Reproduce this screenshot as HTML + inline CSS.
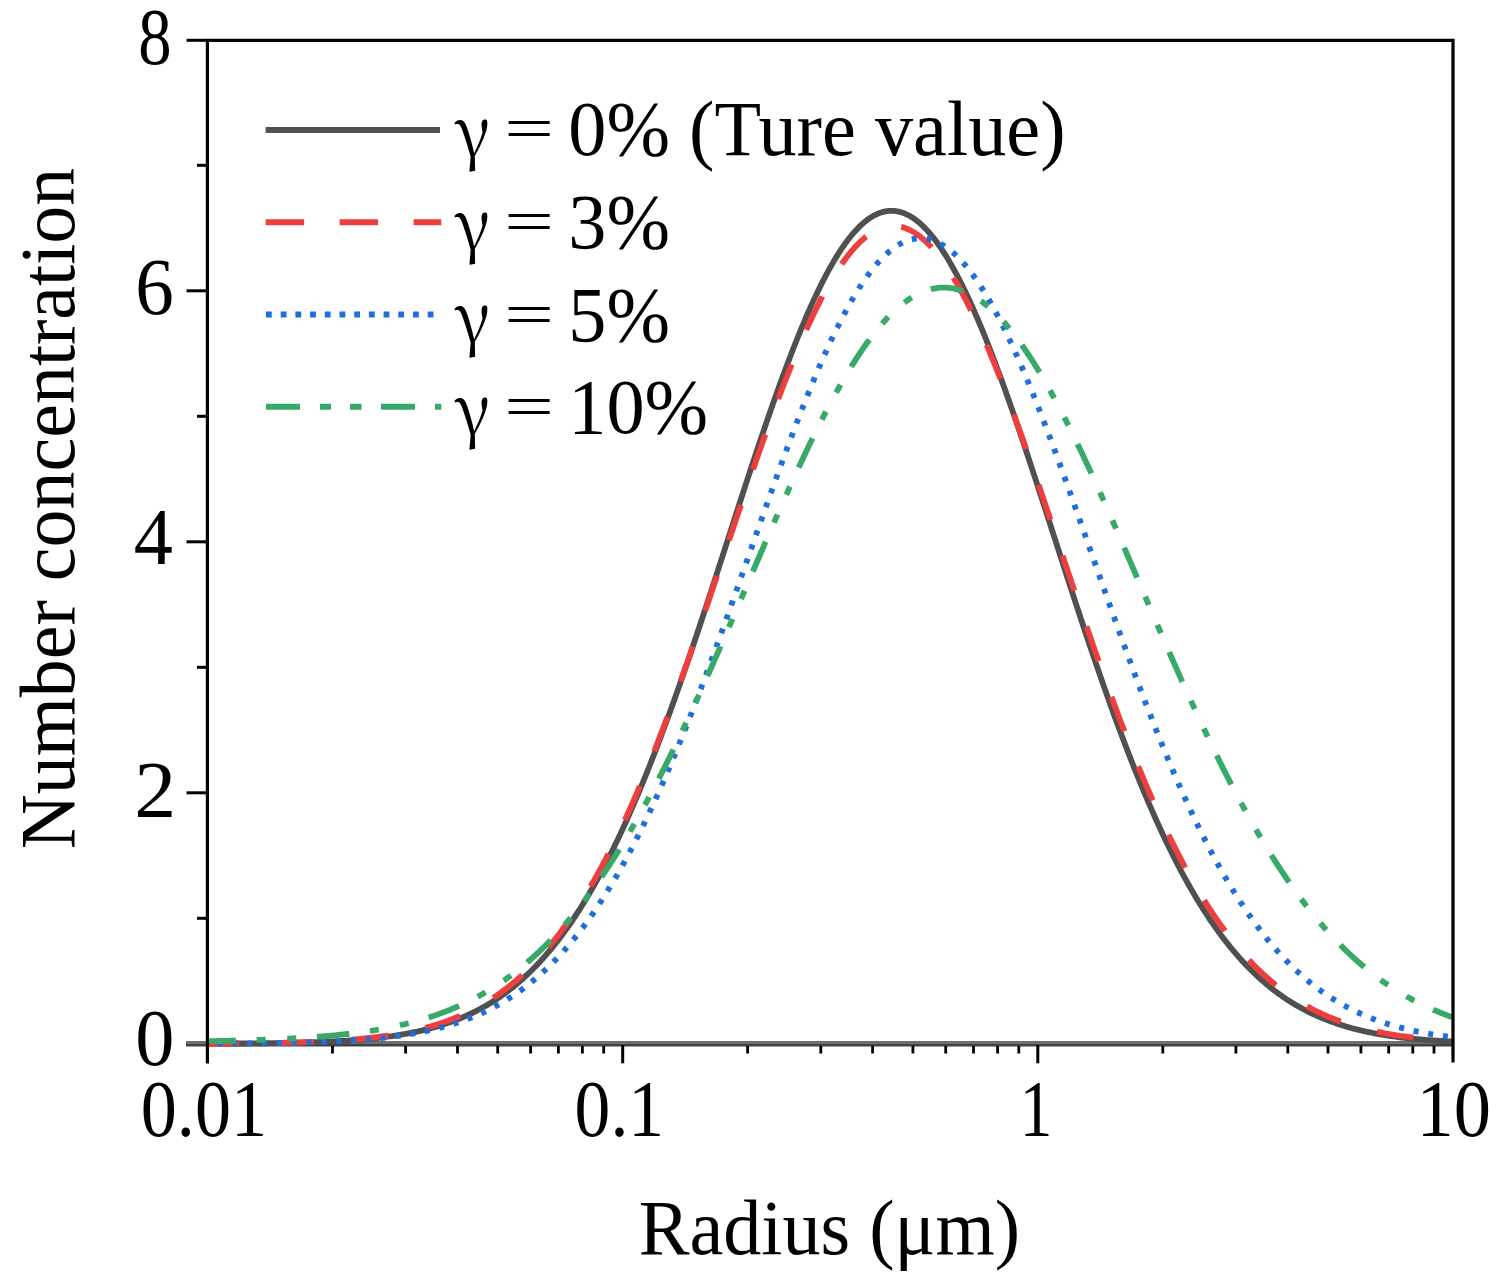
<!DOCTYPE html>
<html><head><meta charset="utf-8"><title>Number concentration vs Radius</title>
<style>html,body{margin:0;padding:0;background:#fff;} body{width:1503px;height:1288px;overflow:hidden;} svg{display:block;}</style>
</head><body>
<svg width="1503" height="1288" viewBox="0 0 1503 1288">
<rect width="1503" height="1288" fill="#fff"/>
<defs><clipPath id="c"><rect x="207.5" y="38" width="1245.5" height="1010"/></clipPath></defs>
<g fill="none" stroke-linecap="butt">
<line x1="186" y1="1042.5" x2="1453" y2="1042.5" stroke="#6e6e6e" stroke-width="3"/>
<line x1="186" y1="1045.25" x2="1453" y2="1045.25" stroke="#424242" stroke-width="2.5"/>
<g clip-path="url(#c)">
<path d="M207.5,1043.7 L209.0,1043.7 L210.5,1043.7 L212.0,1043.7 L213.5,1043.6 L215.0,1043.6 L216.5,1043.6 L218.0,1043.6 L219.5,1043.6 L221.0,1043.6 L222.5,1043.6 L224.0,1043.6 L225.5,1043.6 L227.0,1043.6 L228.5,1043.6 L230.0,1043.6 L231.5,1043.6 L233.0,1043.6 L234.5,1043.5 L236.0,1043.5 L237.5,1043.5 L239.0,1043.5 L240.5,1043.5 L242.0,1043.5 L243.5,1043.5 L245.0,1043.5 L246.5,1043.5 L248.0,1043.4 L249.5,1043.4 L251.0,1043.4 L252.5,1043.4 L254.0,1043.4 L255.5,1043.4 L257.0,1043.4 L258.5,1043.3 L260.0,1043.3 L261.5,1043.3 L263.0,1043.3 L264.5,1043.3 L266.0,1043.3 L267.5,1043.2 L269.0,1043.2 L270.5,1043.2 L272.0,1043.2 L273.5,1043.2 L275.0,1043.1 L276.5,1043.1 L278.0,1043.1 L279.5,1043.1 L281.0,1043.0 L282.5,1043.0 L284.0,1043.0 L285.5,1042.9 L287.0,1042.9 L288.5,1042.9 L290.0,1042.9 L291.5,1042.8 L293.0,1042.8 L294.5,1042.8 L296.0,1042.7 L297.5,1042.7 L299.0,1042.6 L300.5,1042.6 L302.0,1042.6 L303.5,1042.5 L305.0,1042.5 L306.5,1042.4 L308.0,1042.4 L309.5,1042.3 L311.0,1042.3 L312.5,1042.2 L314.0,1042.2 L315.5,1042.1 L317.0,1042.1 L318.5,1042.0 L320.0,1042.0 L321.5,1041.9 L323.0,1041.9 L324.5,1041.8 L326.0,1041.7 L327.5,1041.7 L329.0,1041.6 L330.5,1041.5 L332.0,1041.4 L333.5,1041.4 L335.0,1041.3 L336.5,1041.2 L338.0,1041.1 L339.5,1041.1 L341.0,1041.0 L342.5,1040.9 L344.0,1040.8 L345.5,1040.7 L347.0,1040.6 L348.5,1040.5 L350.0,1040.4 L351.5,1040.3 L353.0,1040.2 L354.5,1040.1 L356.0,1040.0 L357.5,1039.8 L359.0,1039.7 L360.5,1039.6 L362.0,1039.5 L363.5,1039.3 L365.0,1039.2 L366.5,1039.1 L368.0,1038.9 L369.5,1038.8 L371.0,1038.6 L372.5,1038.5 L374.0,1038.3 L375.5,1038.1 L377.0,1038.0 L378.5,1037.8 L380.0,1037.6 L381.5,1037.5 L383.0,1037.3 L384.5,1037.1 L386.0,1036.9 L387.5,1036.7 L389.0,1036.5 L390.5,1036.3 L392.0,1036.1 L393.5,1035.8 L395.0,1035.6 L396.5,1035.4 L398.0,1035.1 L399.5,1034.9 L401.0,1034.7 L402.5,1034.4 L404.0,1034.1 L405.5,1033.9 L407.0,1033.6 L408.5,1033.3 L410.0,1033.0 L411.5,1032.7 L413.0,1032.4 L414.5,1032.1 L416.0,1031.8 L417.5,1031.5 L419.0,1031.1 L420.5,1030.8 L422.0,1030.5 L423.5,1030.1 L425.0,1029.7 L426.5,1029.4 L428.0,1029.0 L429.5,1028.6 L431.0,1028.2 L432.5,1027.8 L434.0,1027.4 L435.5,1026.9 L437.0,1026.5 L438.5,1026.0 L440.0,1025.6 L441.5,1025.1 L443.0,1024.6 L444.5,1024.1 L446.0,1023.6 L447.5,1023.1 L449.0,1022.6 L450.5,1022.1 L452.0,1021.5 L453.5,1021.0 L455.0,1020.4 L456.5,1019.8 L458.0,1019.2 L459.5,1018.6 L461.0,1018.0 L462.5,1017.4 L464.0,1016.7 L465.5,1016.1 L467.0,1015.4 L468.5,1014.7 L470.0,1014.0 L471.5,1013.3 L473.0,1012.6 L474.5,1011.8 L476.0,1011.1 L477.5,1010.3 L479.0,1009.5 L480.5,1008.7 L482.0,1007.9 L483.5,1007.1 L485.0,1006.2 L486.5,1005.4 L488.0,1004.5 L489.5,1003.6 L491.0,1002.7 L492.5,1001.7 L494.0,1000.8 L495.5,999.8 L497.0,998.8 L498.5,997.8 L500.0,996.8 L501.5,995.7 L503.0,994.7 L504.5,993.6 L506.0,992.5 L507.5,991.3 L509.0,990.2 L510.5,989.0 L512.0,987.9 L513.5,986.7 L515.0,985.4 L516.5,984.2 L518.0,982.9 L519.5,981.6 L521.0,980.3 L522.5,979.0 L524.0,977.6 L525.5,976.2 L527.0,974.8 L528.5,973.4 L530.0,972.0 L531.5,970.5 L533.0,969.0 L534.5,967.5 L536.0,965.9 L537.5,964.4 L539.0,962.8 L540.5,961.1 L542.0,959.5 L543.5,957.8 L545.0,956.1 L546.5,954.4 L548.0,952.7 L549.5,950.9 L551.0,949.1 L552.5,947.3 L554.0,945.4 L555.5,943.5 L557.0,941.6 L558.5,939.7 L560.0,937.7 L561.5,935.7 L563.0,933.7 L564.5,931.6 L566.0,929.6 L567.5,927.5 L569.0,925.3 L570.5,923.2 L572.0,921.0 L573.5,918.7 L575.0,916.5 L576.5,914.2 L578.0,911.9 L579.5,909.6 L581.0,907.2 L582.5,904.8 L584.0,902.4 L585.5,899.9 L587.0,897.4 L588.5,894.9 L590.0,892.3 L591.5,889.7 L593.0,887.1 L594.5,884.5 L596.0,881.8 L597.5,879.1 L599.0,876.3 L600.5,873.6 L602.0,870.8 L603.5,867.9 L605.0,865.1 L606.5,862.2 L608.0,859.3 L609.5,856.3 L611.0,853.3 L612.5,850.3 L614.0,847.2 L615.5,844.1 L617.0,841.0 L618.5,837.9 L620.0,834.7 L621.5,831.5 L623.0,828.3 L624.5,825.0 L626.0,821.7 L627.5,818.3 L629.0,815.0 L630.5,811.6 L632.0,808.2 L633.5,804.7 L635.0,801.2 L636.5,797.7 L638.0,794.2 L639.5,790.6 L641.0,787.0 L642.5,783.4 L644.0,779.7 L645.5,776.0 L647.0,772.3 L648.5,768.5 L650.0,764.7 L651.5,760.9 L653.0,757.1 L654.5,753.3 L656.0,749.4 L657.5,745.4 L659.0,741.5 L660.5,737.5 L662.0,733.5 L663.5,729.5 L665.0,725.5 L666.5,721.4 L668.0,717.3 L669.5,713.2 L671.0,709.1 L672.5,704.9 L674.0,700.7 L675.5,696.5 L677.0,692.3 L678.5,688.0 L680.0,683.8 L681.5,679.5 L683.0,675.1 L684.5,670.8 L686.0,666.5 L687.5,662.1 L689.0,657.7 L690.5,653.3 L692.0,648.9 L693.5,644.4 L695.0,640.0 L696.5,635.5 L698.0,631.0 L699.5,626.5 L701.0,622.0 L702.5,617.5 L704.0,612.9 L705.5,608.4 L707.0,603.8 L708.5,599.2 L710.0,594.7 L711.5,590.1 L713.0,585.5 L714.5,580.9 L716.0,576.3 L717.5,571.6 L719.0,567.0 L720.5,562.4 L722.0,557.8 L723.5,553.1 L725.0,548.5 L726.5,543.8 L728.0,539.2 L729.5,534.6 L731.0,529.9 L732.5,525.3 L734.0,520.6 L735.5,516.0 L737.0,511.4 L738.5,506.7 L740.0,502.1 L741.5,497.5 L743.0,492.9 L744.5,488.3 L746.0,483.7 L747.5,479.1 L749.0,474.6 L750.5,470.0 L752.0,465.5 L753.5,460.9 L755.0,456.4 L756.5,451.9 L758.0,447.4 L759.5,443.0 L761.0,438.5 L762.5,434.1 L764.0,429.7 L765.5,425.3 L767.0,420.9 L768.5,416.5 L770.0,412.2 L771.5,407.9 L773.0,403.6 L774.5,399.4 L776.0,395.1 L777.5,390.9 L779.0,386.8 L780.5,382.6 L782.0,378.5 L783.5,374.4 L785.0,370.4 L786.5,366.4 L788.0,362.4 L789.5,358.4 L791.0,354.5 L792.5,350.6 L794.0,346.8 L795.5,343.0 L797.0,339.2 L798.5,335.5 L800.0,331.8 L801.5,328.2 L803.0,324.6 L804.5,321.0 L806.0,317.5 L807.5,314.0 L809.0,310.6 L810.5,307.2 L812.0,303.9 L813.5,300.6 L815.0,297.4 L816.5,294.2 L818.0,291.0 L819.5,287.9 L821.0,284.9 L822.5,281.9 L824.0,279.0 L825.5,276.1 L827.0,273.3 L828.5,270.5 L830.0,267.8 L831.5,265.2 L833.0,262.6 L834.5,260.0 L836.0,257.5 L837.5,255.1 L839.0,252.7 L840.5,250.4 L842.0,248.2 L843.5,246.0 L845.0,243.9 L846.5,241.8 L848.0,239.8 L849.5,237.9 L851.0,236.0 L852.5,234.2 L854.0,232.5 L855.5,230.8 L857.0,229.2 L858.5,227.6 L860.0,226.1 L861.5,224.7 L863.0,223.4 L864.5,222.1 L866.0,220.9 L867.5,219.7 L869.0,218.7 L870.5,217.6 L872.0,216.7 L873.5,215.8 L875.0,215.0 L876.5,214.3 L878.0,213.6 L879.5,213.0 L881.0,212.5 L882.5,212.1 L884.0,211.7 L885.5,211.4 L887.0,211.1 L888.5,210.9 L890.0,210.8 L891.5,210.8 L893.0,210.8 L894.5,210.9 L896.0,211.1 L897.5,211.4 L899.0,211.7 L900.5,212.1 L902.0,212.5 L903.5,213.0 L905.0,213.6 L906.5,214.3 L908.0,215.0 L909.5,215.8 L911.0,216.7 L912.5,217.7 L914.0,218.7 L915.5,219.7 L917.0,220.9 L918.5,222.1 L920.0,223.4 L921.5,224.7 L923.0,226.2 L924.5,227.6 L926.0,229.2 L927.5,230.8 L929.0,232.5 L930.5,234.2 L932.0,236.0 L933.5,237.9 L935.0,239.8 L936.5,241.8 L938.0,243.9 L939.5,246.0 L941.0,248.2 L942.5,250.5 L944.0,252.8 L945.5,255.1 L947.0,257.6 L948.5,260.0 L950.0,262.6 L951.5,265.2 L953.0,267.8 L954.5,270.6 L956.0,273.3 L957.5,276.1 L959.0,279.0 L960.5,282.0 L962.0,284.9 L963.5,288.0 L965.0,291.1 L966.5,294.2 L968.0,297.4 L969.5,300.6 L971.0,303.9 L972.5,307.2 L974.0,310.6 L975.5,314.1 L977.0,317.5 L978.5,321.0 L980.0,324.6 L981.5,328.2 L983.0,331.8 L984.5,335.5 L986.0,339.3 L987.5,343.0 L989.0,346.8 L990.5,350.7 L992.0,354.6 L993.5,358.5 L995.0,362.4 L996.5,366.4 L998.0,370.4 L999.5,374.5 L1001.0,378.6 L1002.5,382.7 L1004.0,386.8 L1005.5,391.0 L1007.0,395.2 L1008.5,399.4 L1010.0,403.7 L1011.5,407.9 L1013.0,412.3 L1014.5,416.6 L1016.0,420.9 L1017.5,425.3 L1019.0,429.7 L1020.5,434.1 L1022.0,438.6 L1023.5,443.0 L1025.0,447.5 L1026.5,452.0 L1028.0,456.5 L1029.5,461.0 L1031.0,465.5 L1032.5,470.1 L1034.0,474.6 L1035.5,479.2 L1037.0,483.8 L1038.5,488.4 L1040.0,493.0 L1041.5,497.6 L1043.0,502.2 L1044.5,506.8 L1046.0,511.4 L1047.5,516.0 L1049.0,520.7 L1050.5,525.3 L1052.0,530.0 L1053.5,534.6 L1055.0,539.2 L1056.5,543.9 L1058.0,548.5 L1059.5,553.2 L1061.0,557.8 L1062.5,562.4 L1064.0,567.1 L1065.5,571.7 L1067.0,576.3 L1068.5,580.9 L1070.0,585.5 L1071.5,590.1 L1073.0,594.7 L1074.5,599.3 L1076.0,603.9 L1077.5,608.4 L1079.0,613.0 L1080.5,617.5 L1082.0,622.0 L1083.5,626.6 L1085.0,631.1 L1086.5,635.5 L1088.0,640.0 L1089.5,644.5 L1091.0,648.9 L1092.5,653.3 L1094.0,657.7 L1095.5,662.1 L1097.0,666.5 L1098.5,670.9 L1100.0,675.2 L1101.5,679.5 L1103.0,683.8 L1104.5,688.1 L1106.0,692.3 L1107.5,696.6 L1109.0,700.8 L1110.5,704.9 L1112.0,709.1 L1113.5,713.3 L1115.0,717.4 L1116.5,721.5 L1118.0,725.5 L1119.5,729.6 L1121.0,733.6 L1122.5,737.6 L1124.0,741.5 L1125.5,745.5 L1127.0,749.4 L1128.5,753.3 L1130.0,757.1 L1131.5,761.0 L1133.0,764.8 L1134.5,768.6 L1136.0,772.3 L1137.5,776.0 L1139.0,779.7 L1140.5,783.4 L1142.0,787.0 L1143.5,790.6 L1145.0,794.2 L1146.5,797.7 L1148.0,801.3 L1149.5,804.7 L1151.0,808.2 L1152.5,811.6 L1154.0,815.0 L1155.5,818.4 L1157.0,821.7 L1158.5,825.0 L1160.0,828.3 L1161.5,831.5 L1163.0,834.7 L1164.5,837.9 L1166.0,841.1 L1167.5,844.2 L1169.0,847.3 L1170.5,850.3 L1172.0,853.3 L1173.5,856.3 L1175.0,859.3 L1176.5,862.2 L1178.0,865.1 L1179.5,868.0 L1181.0,870.8 L1182.5,873.6 L1184.0,876.4 L1185.5,879.1 L1187.0,881.8 L1188.5,884.5 L1190.0,887.1 L1191.5,889.8 L1193.0,892.3 L1194.5,894.9 L1196.0,897.4 L1197.5,899.9 L1199.0,902.4 L1200.5,904.8 L1202.0,907.2 L1203.5,909.6 L1205.0,911.9 L1206.5,914.2 L1208.0,916.5 L1209.5,918.8 L1211.0,921.0 L1212.5,923.2 L1214.0,925.3 L1215.5,927.5 L1217.0,929.6 L1218.5,931.7 L1220.0,933.7 L1221.5,935.7 L1223.0,937.7 L1224.5,939.7 L1226.0,941.6 L1227.5,943.5 L1229.0,945.4 L1230.5,947.3 L1232.0,949.1 L1233.5,950.9 L1235.0,952.7 L1236.5,954.4 L1238.0,956.1 L1239.5,957.8 L1241.0,959.5 L1242.5,961.2 L1244.0,962.8 L1245.5,964.4 L1247.0,965.9 L1248.5,967.5 L1250.0,969.0 L1251.5,970.5 L1253.0,972.0 L1254.5,973.4 L1256.0,974.8 L1257.5,976.3 L1259.0,977.6 L1260.5,979.0 L1262.0,980.3 L1263.5,981.6 L1265.0,982.9 L1266.5,984.2 L1268.0,985.4 L1269.5,986.7 L1271.0,987.9 L1272.5,989.1 L1274.0,990.2 L1275.5,991.4 L1277.0,992.5 L1278.5,993.6 L1280.0,994.7 L1281.5,995.7 L1283.0,996.8 L1284.5,997.8 L1286.0,998.8 L1287.5,999.8 L1289.0,1000.8 L1290.5,1001.7 L1292.0,1002.7 L1293.5,1003.6 L1295.0,1004.5 L1296.5,1005.4 L1298.0,1006.2 L1299.5,1007.1 L1301.0,1007.9 L1302.5,1008.7 L1304.0,1009.5 L1305.5,1010.3 L1307.0,1011.1 L1308.5,1011.9 L1310.0,1012.6 L1311.5,1013.3 L1313.0,1014.0 L1314.5,1014.7 L1316.0,1015.4 L1317.5,1016.1 L1319.0,1016.7 L1320.5,1017.4 L1322.0,1018.0 L1323.5,1018.6 L1325.0,1019.2 L1326.5,1019.8 L1328.0,1020.4 L1329.5,1021.0 L1331.0,1021.5 L1332.5,1022.1 L1334.0,1022.6 L1335.5,1023.1 L1337.0,1023.7 L1338.5,1024.2 L1340.0,1024.6 L1341.5,1025.1 L1343.0,1025.6 L1344.5,1026.0 L1346.0,1026.5 L1347.5,1026.9 L1349.0,1027.4 L1350.5,1027.8 L1352.0,1028.2 L1353.5,1028.6 L1355.0,1029.0 L1356.5,1029.4 L1358.0,1029.7 L1359.5,1030.1 L1361.0,1030.5 L1362.5,1030.8 L1364.0,1031.1 L1365.5,1031.5 L1367.0,1031.8 L1368.5,1032.1 L1370.0,1032.4 L1371.5,1032.7 L1373.0,1033.0 L1374.5,1033.3 L1376.0,1033.6 L1377.5,1033.9 L1379.0,1034.1 L1380.5,1034.4 L1382.0,1034.7 L1383.5,1034.9 L1385.0,1035.1 L1386.5,1035.4 L1388.0,1035.6 L1389.5,1035.8 L1391.0,1036.1 L1392.5,1036.3 L1394.0,1036.5 L1395.5,1036.7 L1397.0,1036.9 L1398.5,1037.1 L1400.0,1037.3 L1401.5,1037.5 L1403.0,1037.6 L1404.5,1037.8 L1406.0,1038.0 L1407.5,1038.1 L1409.0,1038.3 L1410.5,1038.5 L1412.0,1038.6 L1413.5,1038.8 L1415.0,1038.9 L1416.5,1039.1 L1418.0,1039.2 L1419.5,1039.3 L1421.0,1039.5 L1422.5,1039.6 L1424.0,1039.7 L1425.5,1039.8 L1427.0,1040.0 L1428.5,1040.1 L1430.0,1040.2 L1431.5,1040.3 L1433.0,1040.4 L1434.5,1040.5 L1436.0,1040.6 L1437.5,1040.7 L1439.0,1040.8 L1440.5,1040.9 L1442.0,1041.0 L1443.5,1041.1 L1445.0,1041.1 L1446.5,1041.2 L1448.0,1041.3 L1449.5,1041.4 L1451.0,1041.4 L1452.5,1041.5" stroke="#505050" stroke-width="5.8"/>
<path d="M207.5,1043.6 L209.0,1043.6 L210.5,1043.6 L212.0,1043.6 L213.5,1043.6 L215.0,1043.6 L216.5,1043.6 L218.0,1043.6 L219.5,1043.6 L221.0,1043.6 L222.5,1043.6 L224.0,1043.5 L225.5,1043.5 L227.0,1043.5 L228.5,1043.5 L230.0,1043.5 L231.5,1043.5 L233.0,1043.5 L234.5,1043.5 L236.0,1043.5 L237.5,1043.4 L239.0,1043.4 L240.5,1043.4 L242.0,1043.4 L243.5,1043.4 L245.0,1043.4 L246.5,1043.4 L248.0,1043.3 L249.5,1043.3 L251.0,1043.3 L252.5,1043.3 L254.0,1043.3 L255.5,1043.3 L257.0,1043.2 L258.5,1043.2 L260.0,1043.2 L261.5,1043.2 L263.0,1043.2 L264.5,1043.1 L266.0,1043.1 L267.5,1043.1 L269.0,1043.1 L270.5,1043.0 L272.0,1043.0 L273.5,1043.0 L275.0,1043.0 L276.5,1042.9 L278.0,1042.9 L279.5,1042.9 L281.0,1042.8 L282.5,1042.8 L284.0,1042.8 L285.5,1042.7 L287.0,1042.7 L288.5,1042.7 L290.0,1042.6 L291.5,1042.6 L293.0,1042.5 L294.5,1042.5 L296.0,1042.5 L297.5,1042.4 L299.0,1042.4 L300.5,1042.3 L302.0,1042.3 L303.5,1042.2 L305.0,1042.2 L306.5,1042.1 L308.0,1042.1 L309.5,1042.0 L311.0,1042.0 L312.5,1041.9 L314.0,1041.8 L315.5,1041.8 L317.0,1041.7 L318.5,1041.7 L320.0,1041.6 L321.5,1041.5 L323.0,1041.4 L324.5,1041.4 L326.0,1041.3 L327.5,1041.2 L329.0,1041.1 L330.5,1041.1 L332.0,1041.0 L333.5,1040.9 L335.0,1040.8 L336.5,1040.7 L338.0,1040.6 L339.5,1040.5 L341.0,1040.4 L342.5,1040.3 L344.0,1040.2 L345.5,1040.1 L347.0,1040.0 L348.5,1039.9 L350.0,1039.8 L351.5,1039.6 L353.0,1039.5 L354.5,1039.4 L356.0,1039.3 L357.5,1039.1 L359.0,1039.0 L360.5,1038.8 L362.0,1038.7 L363.5,1038.6 L365.0,1038.4 L366.5,1038.2 L368.0,1038.1 L369.5,1037.9 L371.0,1037.8 L372.5,1037.6 L374.0,1037.4 L375.5,1037.2 L377.0,1037.0 L378.5,1036.8 L380.0,1036.6 L381.5,1036.4 L383.0,1036.2 L384.5,1036.0 L386.0,1035.8 L387.5,1035.6 L389.0,1035.4 L390.5,1035.1 L392.0,1034.9 L393.5,1034.7 L395.0,1034.4 L396.5,1034.1 L398.0,1033.9 L399.5,1033.6 L401.0,1033.3 L402.5,1033.1 L404.0,1032.8 L405.5,1032.5 L407.0,1032.2 L408.5,1031.9 L410.0,1031.6 L411.5,1031.2 L413.0,1030.9 L414.5,1030.6 L416.0,1030.2 L417.5,1029.9 L419.0,1029.5 L420.5,1029.1 L422.0,1028.8 L423.5,1028.4 L425.0,1028.0 L426.5,1027.6 L428.0,1027.1 L429.5,1026.7 L431.0,1026.3 L432.5,1025.9 L434.0,1025.4 L435.5,1024.9 L437.0,1024.5 L438.5,1024.0 L440.0,1023.5 L441.5,1023.0 L443.0,1022.5 L444.5,1022.0 L446.0,1021.4 L447.5,1020.9 L449.0,1020.3 L450.5,1019.8 L452.0,1019.2 L453.5,1018.6 L455.0,1018.0 L456.5,1017.4 L458.0,1016.7 L459.5,1016.1 L461.0,1015.4 L462.5,1014.8 L464.0,1014.1 L465.5,1013.4 L467.0,1012.7 L468.5,1012.0 L470.0,1011.2 L471.5,1010.5 L473.0,1009.7 L474.5,1008.9 L476.0,1008.1 L477.5,1007.3 L479.0,1006.5 L480.5,1005.6 L482.0,1004.8 L483.5,1003.9 L485.0,1003.0 L486.5,1002.1 L488.0,1001.2 L489.5,1000.2 L491.0,999.3 L492.5,998.3 L494.0,997.3 L495.5,996.3 L497.0,995.3 L498.5,994.2 L500.0,993.2 L501.5,992.1 L503.0,991.0 L504.5,989.9 L506.0,988.7 L507.5,987.6 L509.0,986.4 L510.5,985.2 L512.0,984.0 L513.5,982.7 L515.0,981.4 L516.5,980.2 L518.0,978.9 L519.5,977.5 L521.0,976.2 L522.5,974.8 L524.0,973.4 L525.5,972.0 L527.0,970.6 L528.5,969.1 L530.0,967.6 L531.5,966.1 L533.0,964.6 L534.5,963.0 L536.0,961.5 L537.5,959.9 L539.0,958.3 L540.5,956.6 L542.0,954.9 L543.5,953.2 L545.0,951.5 L546.5,949.8 L548.0,948.0 L549.5,946.2 L551.0,944.4 L552.5,942.5 L554.0,940.6 L555.5,938.7 L557.0,936.8 L558.5,934.9 L560.0,932.9 L561.5,930.9 L563.0,928.8 L564.5,926.8 L566.0,924.7 L567.5,922.6 L569.0,920.4 L570.5,918.2 L572.0,916.0 L573.5,913.8 L575.0,911.6 L576.5,909.3 L578.0,907.0 L579.5,904.6 L581.0,902.2 L582.5,899.8 L584.0,897.4 L585.5,895.0 L587.0,892.5 L588.5,889.9 L590.0,887.4 L591.5,884.8 L593.0,882.2 L594.5,879.6 L596.0,876.9 L597.5,874.2 L599.0,871.5 L600.5,868.8 L602.0,866.0 L603.5,863.2 L605.0,860.3 L606.5,857.5 L608.0,854.6 L609.5,851.6 L611.0,848.7 L612.5,845.7 L614.0,842.7 L615.5,839.6 L617.0,836.6 L618.5,833.4 L620.0,830.3 L621.5,827.2 L623.0,824.0 L624.5,820.7 L626.0,817.5 L627.5,814.2 L629.0,810.9 L630.5,807.6 L632.0,804.2 L633.5,800.8 L635.0,797.4 L636.5,793.9 L638.0,790.5 L639.5,787.0 L641.0,783.4 L642.5,779.9 L644.0,776.3 L645.5,772.7 L647.0,769.0 L648.5,765.4 L650.0,761.7 L651.5,758.0 L653.0,754.2 L654.5,750.5 L656.0,746.7 L657.5,742.8 L659.0,739.0 L660.5,735.1 L662.0,731.2 L663.5,727.3 L665.0,723.4 L666.5,719.4 L668.0,715.5 L669.5,711.5 L671.0,707.4 L672.5,703.4 L674.0,699.3 L675.5,695.2 L677.0,691.1 L678.5,687.0 L680.0,682.9 L681.5,678.7 L683.0,674.5 L684.5,670.3 L686.0,666.1 L687.5,661.9 L689.0,657.6 L690.5,653.4 L692.0,649.1 L693.5,644.8 L695.0,640.5 L696.5,636.1 L698.0,631.8 L699.5,627.5 L701.0,623.1 L702.5,618.7 L704.0,614.4 L705.5,610.0 L707.0,605.6 L708.5,601.2 L710.0,596.7 L711.5,592.3 L713.0,587.9 L714.5,583.4 L716.0,579.0 L717.5,574.5 L719.0,570.1 L720.5,565.6 L722.0,561.2 L723.5,556.7 L725.0,552.3 L726.5,547.8 L728.0,543.3 L729.5,538.9 L731.0,534.4 L732.5,529.9 L734.0,525.5 L735.5,521.0 L737.0,516.6 L738.5,512.1 L740.0,507.7 L741.5,503.3 L743.0,498.9 L744.5,494.4 L746.0,490.0 L747.5,485.6 L749.0,481.3 L750.5,476.9 L752.0,472.5 L753.5,468.2 L755.0,463.8 L756.5,459.5 L758.0,455.2 L759.5,450.9 L761.0,446.7 L762.5,442.4 L764.0,438.2 L765.5,434.0 L767.0,429.8 L768.5,425.6 L770.0,421.4 L771.5,417.3 L773.0,413.2 L774.5,409.1 L776.0,405.1 L777.5,401.1 L779.0,397.1 L780.5,393.1 L782.0,389.1 L783.5,385.2 L785.0,381.3 L786.5,377.5 L788.0,373.7 L789.5,369.9 L791.0,366.1 L792.5,362.4 L794.0,358.7 L795.5,355.1 L797.0,351.4 L798.5,347.9 L800.0,344.3 L801.5,340.8 L803.0,337.4 L804.5,334.0 L806.0,330.6 L807.5,327.2 L809.0,323.9 L810.5,320.7 L812.0,317.5 L813.5,314.3 L815.0,311.2 L816.5,308.1 L818.0,305.1 L819.5,302.1 L821.0,299.2 L822.5,296.3 L824.0,293.5 L825.5,290.7 L827.0,288.0 L828.5,285.3 L830.0,282.7 L831.5,280.1 L833.0,277.6 L834.5,275.2 L836.0,272.8 L837.5,270.4 L839.0,268.1 L840.5,265.9 L842.0,263.7 L843.5,261.6 L845.0,259.5 L846.5,257.5 L848.0,255.5 L849.5,253.6 L851.0,251.8 L852.5,250.0 L854.0,248.3 L855.5,246.6 L857.0,245.1 L858.5,243.5 L860.0,242.1 L861.5,240.7 L863.0,239.3 L864.5,238.0 L866.0,236.8 L867.5,235.7 L869.0,234.6 L870.5,233.5 L872.0,232.6 L873.5,231.7 L875.0,230.9 L876.5,230.1 L878.0,229.4 L879.5,228.8 L881.0,228.2 L882.5,227.7 L884.0,227.2 L885.5,226.9 L887.0,226.6 L888.5,226.3 L890.0,226.2 L891.5,226.0 L893.0,226.0 L894.5,226.0 L896.0,226.1 L897.5,226.3 L899.0,226.5 L900.5,226.8 L902.0,227.1 L903.5,227.6 L905.0,228.1 L906.5,228.6 L908.0,229.2 L909.5,229.9 L911.0,230.7 L912.5,231.5 L914.0,232.3 L915.5,233.3 L917.0,234.3 L918.5,235.4 L920.0,236.5 L921.5,237.7 L923.0,239.0 L924.5,240.3 L926.0,241.7 L927.5,243.1 L929.0,244.7 L930.5,246.2 L932.0,247.9 L933.5,249.6 L935.0,251.3 L936.5,253.1 L938.0,255.0 L939.5,257.0 L941.0,259.0 L942.5,261.0 L944.0,263.1 L945.5,265.3 L947.0,267.5 L948.5,269.8 L950.0,272.1 L951.5,274.5 L953.0,277.0 L954.5,279.5 L956.0,282.0 L957.5,284.6 L959.0,287.3 L960.5,290.0 L962.0,292.8 L963.5,295.6 L965.0,298.5 L966.5,301.4 L968.0,304.3 L969.5,307.4 L971.0,310.4 L972.5,313.5 L974.0,316.7 L975.5,319.9 L977.0,323.1 L978.5,326.4 L980.0,329.7 L981.5,333.1 L983.0,336.5 L984.5,339.9 L986.0,343.4 L987.5,346.9 L989.0,350.5 L990.5,354.1 L992.0,357.8 L993.5,361.4 L995.0,365.1 L996.5,368.9 L998.0,372.7 L999.5,376.5 L1001.0,380.3 L1002.5,384.2 L1004.0,388.1 L1005.5,392.1 L1007.0,396.0 L1008.5,400.0 L1010.0,404.0 L1011.5,408.1 L1013.0,412.2 L1014.5,416.3 L1016.0,420.4 L1017.5,424.5 L1019.0,428.7 L1020.5,432.9 L1022.0,437.1 L1023.5,441.3 L1025.0,445.6 L1026.5,449.8 L1028.0,454.1 L1029.5,458.4 L1031.0,462.7 L1032.5,467.1 L1034.0,471.4 L1035.5,475.8 L1037.0,480.1 L1038.5,484.5 L1040.0,488.9 L1041.5,493.3 L1043.0,497.7 L1044.5,502.1 L1046.0,506.6 L1047.5,511.0 L1049.0,515.4 L1050.5,519.9 L1052.0,524.3 L1053.5,528.8 L1055.0,533.2 L1056.5,537.7 L1058.0,542.2 L1059.5,546.6 L1061.0,551.1 L1062.5,555.6 L1064.0,560.0 L1065.5,564.5 L1067.0,568.9 L1068.5,573.4 L1070.0,577.8 L1071.5,582.3 L1073.0,586.7 L1074.5,591.2 L1076.0,595.6 L1077.5,600.0 L1079.0,604.4 L1080.5,608.8 L1082.0,613.2 L1083.5,617.6 L1085.0,622.0 L1086.5,626.3 L1088.0,630.7 L1089.5,635.0 L1091.0,639.3 L1092.5,643.7 L1094.0,648.0 L1095.5,652.2 L1097.0,656.5 L1098.5,660.8 L1100.0,665.0 L1101.5,669.2 L1103.0,673.4 L1104.5,677.6 L1106.0,681.8 L1107.5,685.9 L1109.0,690.1 L1110.5,694.2 L1112.0,698.3 L1113.5,702.3 L1115.0,706.4 L1116.5,710.4 L1118.0,714.4 L1119.5,718.4 L1121.0,722.4 L1122.5,726.3 L1124.0,730.2 L1125.5,734.1 L1127.0,738.0 L1128.5,741.8 L1130.0,745.7 L1131.5,749.5 L1133.0,753.2 L1134.5,757.0 L1136.0,760.7 L1137.5,764.4 L1139.0,768.1 L1140.5,771.7 L1142.0,775.4 L1143.5,778.9 L1145.0,782.5 L1146.5,786.0 L1148.0,789.6 L1149.5,793.0 L1151.0,796.5 L1152.5,799.9 L1154.0,803.3 L1155.5,806.7 L1157.0,810.0 L1158.5,813.4 L1160.0,816.6 L1161.5,819.9 L1163.0,823.1 L1164.5,826.3 L1166.0,829.5 L1167.5,832.6 L1169.0,835.8 L1170.5,838.8 L1172.0,841.9 L1173.5,844.9 L1175.0,847.9 L1176.5,850.9 L1178.0,853.8 L1179.5,856.7 L1181.0,859.6 L1182.5,862.4 L1184.0,865.3 L1185.5,868.0 L1187.0,870.8 L1188.5,873.5 L1190.0,876.2 L1191.5,878.9 L1193.0,881.5 L1194.5,884.2 L1196.0,886.7 L1197.5,889.3 L1199.0,891.8 L1200.5,894.3 L1202.0,896.8 L1203.5,899.2 L1205.0,901.6 L1206.5,904.0 L1208.0,906.3 L1209.5,908.7 L1211.0,911.0 L1212.5,913.2 L1214.0,915.5 L1215.5,917.7 L1217.0,919.9 L1218.5,922.0 L1220.0,924.1 L1221.5,926.2 L1223.0,928.3 L1224.5,930.3 L1226.0,932.4 L1227.5,934.3 L1229.0,936.3 L1230.5,938.2 L1232.0,940.2 L1233.5,942.0 L1235.0,943.9 L1236.5,945.7 L1238.0,947.5 L1239.5,949.3 L1241.0,951.1 L1242.5,952.8 L1244.0,954.5 L1245.5,956.2 L1247.0,957.8 L1248.5,959.5 L1250.0,961.1 L1251.5,962.6 L1253.0,964.2 L1254.5,965.7 L1256.0,967.2 L1257.5,968.7 L1259.0,970.2 L1260.5,971.6 L1262.0,973.1 L1263.5,974.5 L1265.0,975.8 L1266.5,977.2 L1268.0,978.5 L1269.5,979.8 L1271.0,981.1 L1272.5,982.4 L1274.0,983.6 L1275.5,984.9 L1277.0,986.1 L1278.5,987.3 L1280.0,988.4 L1281.5,989.6 L1283.0,990.7 L1284.5,991.8 L1286.0,992.9 L1287.5,994.0 L1289.0,995.0 L1290.5,996.0 L1292.0,997.1 L1293.5,998.1 L1295.0,999.0 L1296.5,1000.0 L1298.0,1000.9 L1299.5,1001.9 L1301.0,1002.8 L1302.5,1003.7 L1304.0,1004.6 L1305.5,1005.4 L1307.0,1006.3 L1308.5,1007.1 L1310.0,1007.9 L1311.5,1008.7 L1313.0,1009.5 L1314.5,1010.3 L1316.0,1011.0 L1317.5,1011.8 L1319.0,1012.5 L1320.5,1013.2 L1322.0,1013.9 L1323.5,1014.6 L1325.0,1015.3 L1326.5,1015.9 L1328.0,1016.6 L1329.5,1017.2 L1331.0,1017.8 L1332.5,1018.4 L1334.0,1019.0 L1335.5,1019.6 L1337.0,1020.2 L1338.5,1020.7 L1340.0,1021.3 L1341.5,1021.8 L1343.0,1022.3 L1344.5,1022.9 L1346.0,1023.4 L1347.5,1023.9 L1349.0,1024.3 L1350.5,1024.8 L1352.0,1025.3 L1353.5,1025.7 L1355.0,1026.2 L1356.5,1026.6 L1358.0,1027.0 L1359.5,1027.5 L1361.0,1027.9 L1362.5,1028.3 L1364.0,1028.7 L1365.5,1029.0 L1367.0,1029.4 L1368.5,1029.8 L1370.0,1030.1 L1371.5,1030.5 L1373.0,1030.8 L1374.5,1031.1 L1376.0,1031.5 L1377.5,1031.8 L1379.0,1032.1 L1380.5,1032.4 L1382.0,1032.7 L1383.5,1033.0 L1385.0,1033.3 L1386.5,1033.5 L1388.0,1033.8 L1389.5,1034.1 L1391.0,1034.3 L1392.5,1034.6 L1394.0,1034.8 L1395.5,1035.1 L1397.0,1035.3 L1398.5,1035.5 L1400.0,1035.8 L1401.5,1036.0 L1403.0,1036.2 L1404.5,1036.4 L1406.0,1036.6 L1407.5,1036.8 L1409.0,1037.0 L1410.5,1037.2 L1412.0,1037.4 L1413.5,1037.5 L1415.0,1037.7 L1416.5,1037.9 L1418.0,1038.0 L1419.5,1038.2 L1421.0,1038.4 L1422.5,1038.5 L1424.0,1038.7 L1425.5,1038.8 L1427.0,1038.9 L1428.5,1039.1 L1430.0,1039.2 L1431.5,1039.4 L1433.0,1039.5 L1434.5,1039.6 L1436.0,1039.7 L1437.5,1039.8 L1439.0,1040.0 L1440.5,1040.1 L1442.0,1040.2 L1443.5,1040.3 L1445.0,1040.4 L1446.5,1040.5 L1448.0,1040.6 L1449.5,1040.7 L1451.0,1040.8 L1452.5,1040.9" stroke="#EF3E3E" stroke-width="5.8" stroke-dasharray="37 37.7" stroke-dashoffset="5.2"/>
<path d="M207.5,1043.7 L209.0,1043.7 L210.5,1043.6 L212.0,1043.6 L213.5,1043.6 L215.0,1043.6 L216.5,1043.6 L218.0,1043.6 L219.5,1043.6 L221.0,1043.6 L222.5,1043.6 L224.0,1043.6 L225.5,1043.6 L227.0,1043.6 L228.5,1043.6 L230.0,1043.6 L231.5,1043.5 L233.0,1043.5 L234.5,1043.5 L236.0,1043.5 L237.5,1043.5 L239.0,1043.5 L240.5,1043.5 L242.0,1043.5 L243.5,1043.5 L245.0,1043.5 L246.5,1043.4 L248.0,1043.4 L249.5,1043.4 L251.0,1043.4 L252.5,1043.4 L254.0,1043.4 L255.5,1043.4 L257.0,1043.3 L258.5,1043.3 L260.0,1043.3 L261.5,1043.3 L263.0,1043.3 L264.5,1043.3 L266.0,1043.2 L267.5,1043.2 L269.0,1043.2 L270.5,1043.2 L272.0,1043.2 L273.5,1043.1 L275.0,1043.1 L276.5,1043.1 L278.0,1043.1 L279.5,1043.0 L281.0,1043.0 L282.5,1043.0 L284.0,1043.0 L285.5,1042.9 L287.0,1042.9 L288.5,1042.9 L290.0,1042.9 L291.5,1042.8 L293.0,1042.8 L294.5,1042.8 L296.0,1042.7 L297.5,1042.7 L299.0,1042.7 L300.5,1042.6 L302.0,1042.6 L303.5,1042.5 L305.0,1042.5 L306.5,1042.5 L308.0,1042.4 L309.5,1042.4 L311.0,1042.3 L312.5,1042.3 L314.0,1042.2 L315.5,1042.2 L317.0,1042.1 L318.5,1042.1 L320.0,1042.0 L321.5,1042.0 L323.0,1041.9 L324.5,1041.9 L326.0,1041.8 L327.5,1041.7 L329.0,1041.7 L330.5,1041.6 L332.0,1041.5 L333.5,1041.5 L335.0,1041.4 L336.5,1041.3 L338.0,1041.3 L339.5,1041.2 L341.0,1041.1 L342.5,1041.0 L344.0,1040.9 L345.5,1040.9 L347.0,1040.8 L348.5,1040.7 L350.0,1040.6 L351.5,1040.5 L353.0,1040.4 L354.5,1040.3 L356.0,1040.2 L357.5,1040.1 L359.0,1040.0 L360.5,1039.9 L362.0,1039.8 L363.5,1039.6 L365.0,1039.5 L366.5,1039.4 L368.0,1039.3 L369.5,1039.1 L371.0,1039.0 L372.5,1038.9 L374.0,1038.7 L375.5,1038.6 L377.0,1038.4 L378.5,1038.3 L380.0,1038.1 L381.5,1038.0 L383.0,1037.8 L384.5,1037.7 L386.0,1037.5 L387.5,1037.3 L389.0,1037.1 L390.5,1037.0 L392.0,1036.8 L393.5,1036.6 L395.0,1036.4 L396.5,1036.2 L398.0,1036.0 L399.5,1035.8 L401.0,1035.5 L402.5,1035.3 L404.0,1035.1 L405.5,1034.9 L407.0,1034.6 L408.5,1034.4 L410.0,1034.1 L411.5,1033.9 L413.0,1033.6 L414.5,1033.4 L416.0,1033.1 L417.5,1032.8 L419.0,1032.5 L420.5,1032.2 L422.0,1031.9 L423.5,1031.6 L425.0,1031.3 L426.5,1031.0 L428.0,1030.7 L429.5,1030.3 L431.0,1030.0 L432.5,1029.7 L434.0,1029.3 L435.5,1028.9 L437.0,1028.6 L438.5,1028.2 L440.0,1027.8 L441.5,1027.4 L443.0,1027.0 L444.5,1026.6 L446.0,1026.2 L447.5,1025.7 L449.0,1025.3 L450.5,1024.9 L452.0,1024.4 L453.5,1023.9 L455.0,1023.4 L456.5,1023.0 L458.0,1022.5 L459.5,1022.0 L461.0,1021.4 L462.5,1020.9 L464.0,1020.4 L465.5,1019.8 L467.0,1019.3 L468.5,1018.7 L470.0,1018.1 L471.5,1017.5 L473.0,1016.9 L474.5,1016.3 L476.0,1015.6 L477.5,1015.0 L479.0,1014.3 L480.5,1013.7 L482.0,1013.0 L483.5,1012.3 L485.0,1011.6 L486.5,1010.9 L488.0,1010.1 L489.5,1009.4 L491.0,1008.6 L492.5,1007.9 L494.0,1007.1 L495.5,1006.3 L497.0,1005.4 L498.5,1004.6 L500.0,1003.8 L501.5,1002.9 L503.0,1002.0 L504.5,1001.1 L506.0,1000.2 L507.5,999.3 L509.0,998.3 L510.5,997.4 L512.0,996.4 L513.5,995.4 L515.0,994.4 L516.5,993.4 L518.0,992.3 L519.5,991.2 L521.0,990.2 L522.5,989.1 L524.0,987.9 L525.5,986.8 L527.0,985.6 L528.5,984.5 L530.0,983.3 L531.5,982.1 L533.0,980.8 L534.5,979.6 L536.0,978.3 L537.5,977.0 L539.0,975.7 L540.5,974.4 L542.0,973.0 L543.5,971.6 L545.0,970.2 L546.5,968.8 L548.0,967.4 L549.5,965.9 L551.0,964.4 L552.5,962.9 L554.0,961.4 L555.5,959.9 L557.0,958.3 L558.5,956.7 L560.0,955.1 L561.5,953.4 L563.0,951.8 L564.5,950.1 L566.0,948.4 L567.5,946.7 L569.0,944.9 L570.5,943.1 L572.0,941.3 L573.5,939.5 L575.0,937.6 L576.5,935.7 L578.0,933.8 L579.5,931.9 L581.0,929.9 L582.5,928.0 L584.0,926.0 L585.5,923.9 L587.0,921.9 L588.5,919.8 L590.0,917.7 L591.5,915.5 L593.0,913.4 L594.5,911.2 L596.0,909.0 L597.5,906.7 L599.0,904.5 L600.5,902.2 L602.0,899.8 L603.5,897.5 L605.0,895.1 L606.5,892.7 L608.0,890.3 L609.5,887.8 L611.0,885.4 L612.5,882.8 L614.0,880.3 L615.5,877.7 L617.0,875.1 L618.5,872.5 L620.0,869.9 L621.5,867.2 L623.0,864.5 L624.5,861.8 L626.0,859.0 L627.5,856.2 L629.0,853.4 L630.5,850.6 L632.0,847.7 L633.5,844.8 L635.0,841.9 L636.5,838.9 L638.0,836.0 L639.5,833.0 L641.0,829.9 L642.5,826.9 L644.0,823.8 L645.5,820.7 L647.0,817.5 L648.5,814.4 L650.0,811.2 L651.5,808.0 L653.0,804.7 L654.5,801.5 L656.0,798.2 L657.5,794.8 L659.0,791.5 L660.5,788.1 L662.0,784.7 L663.5,781.3 L665.0,777.8 L666.5,774.4 L668.0,770.9 L669.5,767.4 L671.0,763.8 L672.5,760.2 L674.0,756.6 L675.5,753.0 L677.0,749.4 L678.5,745.7 L680.0,742.0 L681.5,738.3 L683.0,734.6 L684.5,730.9 L686.0,727.1 L687.5,723.3 L689.0,719.5 L690.5,715.6 L692.0,711.8 L693.5,707.9 L695.0,704.0 L696.5,700.1 L698.0,696.2 L699.5,692.2 L701.0,688.3 L702.5,684.3 L704.0,680.3 L705.5,676.3 L707.0,672.2 L708.5,668.2 L710.0,664.1 L711.5,660.1 L713.0,656.0 L714.5,651.9 L716.0,647.7 L717.5,643.6 L719.0,639.5 L720.5,635.3 L722.0,631.1 L723.5,627.0 L725.0,622.8 L726.5,618.6 L728.0,614.4 L729.5,610.2 L731.0,606.0 L732.5,601.7 L734.0,597.5 L735.5,593.2 L737.0,589.0 L738.5,584.7 L740.0,580.5 L741.5,576.2 L743.0,572.0 L744.5,567.7 L746.0,563.4 L747.5,559.2 L749.0,554.9 L750.5,550.6 L752.0,546.4 L753.5,542.1 L755.0,537.8 L756.5,533.6 L758.0,529.3 L759.5,525.0 L761.0,520.8 L762.5,516.5 L764.0,512.3 L765.5,508.1 L767.0,503.8 L768.5,499.6 L770.0,495.4 L771.5,491.2 L773.0,487.0 L774.5,482.9 L776.0,478.7 L777.5,474.5 L779.0,470.4 L780.5,466.3 L782.0,462.2 L783.5,458.1 L785.0,454.0 L786.5,449.9 L788.0,445.9 L789.5,441.9 L791.0,437.9 L792.5,433.9 L794.0,429.9 L795.5,426.0 L797.0,422.0 L798.5,418.1 L800.0,414.3 L801.5,410.4 L803.0,406.6 L804.5,402.8 L806.0,399.0 L807.5,395.3 L809.0,391.6 L810.5,387.9 L812.0,384.2 L813.5,380.6 L815.0,377.0 L816.5,373.4 L818.0,369.9 L819.5,366.4 L821.0,362.9 L822.5,359.5 L824.0,356.1 L825.5,352.7 L827.0,349.4 L828.5,346.1 L830.0,342.9 L831.5,339.6 L833.0,336.5 L834.5,333.3 L836.0,330.2 L837.5,327.2 L839.0,324.2 L840.5,321.2 L842.0,318.3 L843.5,315.4 L845.0,312.6 L846.5,309.8 L848.0,307.1 L849.5,304.4 L851.0,301.7 L852.5,299.1 L854.0,296.6 L855.5,294.0 L857.0,291.6 L858.5,289.2 L860.0,286.8 L861.5,284.5 L863.0,282.3 L864.5,280.1 L866.0,277.9 L867.5,275.8 L869.0,273.8 L870.5,271.8 L872.0,269.8 L873.5,267.9 L875.0,266.1 L876.5,264.3 L878.0,262.6 L879.5,261.0 L881.0,259.3 L882.5,257.8 L884.0,256.3 L885.5,254.9 L887.0,253.5 L888.5,252.2 L890.0,250.9 L891.5,249.7 L893.0,248.6 L894.5,247.5 L896.0,246.5 L897.5,245.5 L899.0,244.6 L900.5,243.7 L902.0,243.0 L903.5,242.2 L905.0,241.6 L906.5,241.0 L908.0,240.4 L909.5,239.9 L911.0,239.5 L912.5,239.2 L914.0,238.9 L915.5,238.6 L917.0,238.4 L918.5,238.3 L920.0,238.3 L921.5,238.3 L923.0,238.4 L924.5,238.5 L926.0,238.7 L927.5,238.9 L929.0,239.3 L930.5,239.6 L932.0,240.1 L933.5,240.6 L935.0,241.1 L936.5,241.8 L938.0,242.4 L939.5,243.2 L941.0,244.0 L942.5,244.9 L944.0,245.8 L945.5,246.8 L947.0,247.8 L948.5,248.9 L950.0,250.1 L951.5,251.3 L953.0,252.6 L954.5,253.9 L956.0,255.3 L957.5,256.8 L959.0,258.3 L960.5,259.8 L962.0,261.5 L963.5,263.2 L965.0,264.9 L966.5,266.7 L968.0,268.5 L969.5,270.4 L971.0,272.4 L972.5,274.4 L974.0,276.5 L975.5,278.6 L977.0,280.7 L978.5,283.0 L980.0,285.2 L981.5,287.6 L983.0,289.9 L984.5,292.4 L986.0,294.8 L987.5,297.4 L989.0,299.9 L990.5,302.5 L992.0,305.2 L993.5,307.9 L995.0,310.7 L996.5,313.5 L998.0,316.3 L999.5,319.2 L1001.0,322.2 L1002.5,325.1 L1004.0,328.2 L1005.5,331.2 L1007.0,334.3 L1008.5,337.5 L1010.0,340.7 L1011.5,343.9 L1013.0,347.1 L1014.5,350.4 L1016.0,353.8 L1017.5,357.1 L1019.0,360.6 L1020.5,364.0 L1022.0,367.5 L1023.5,371.0 L1025.0,374.5 L1026.5,378.1 L1028.0,381.7 L1029.5,385.4 L1031.0,389.0 L1032.5,392.7 L1034.0,396.5 L1035.5,400.2 L1037.0,404.0 L1038.5,407.8 L1040.0,411.6 L1041.5,415.5 L1043.0,419.4 L1044.5,423.3 L1046.0,427.2 L1047.5,431.2 L1049.0,435.1 L1050.5,439.1 L1052.0,443.1 L1053.5,447.2 L1055.0,451.2 L1056.5,455.3 L1058.0,459.4 L1059.5,463.5 L1061.0,467.6 L1062.5,471.7 L1064.0,475.9 L1065.5,480.0 L1067.0,484.2 L1068.5,488.4 L1070.0,492.5 L1071.5,496.8 L1073.0,501.0 L1074.5,505.2 L1076.0,509.4 L1077.5,513.6 L1079.0,517.9 L1080.5,522.1 L1082.0,526.4 L1083.5,530.6 L1085.0,534.9 L1086.5,539.2 L1088.0,543.4 L1089.5,547.7 L1091.0,552.0 L1092.5,556.2 L1094.0,560.5 L1095.5,564.8 L1097.0,569.0 L1098.5,573.3 L1100.0,577.6 L1101.5,581.8 L1103.0,586.1 L1104.5,590.3 L1106.0,594.6 L1107.5,598.8 L1109.0,603.1 L1110.5,607.3 L1112.0,611.5 L1113.5,615.7 L1115.0,619.9 L1116.5,624.1 L1118.0,628.3 L1119.5,632.5 L1121.0,636.6 L1122.5,640.8 L1124.0,644.9 L1125.5,649.0 L1127.0,653.2 L1128.5,657.3 L1130.0,661.3 L1131.5,665.4 L1133.0,669.5 L1134.5,673.5 L1136.0,677.5 L1137.5,681.6 L1139.0,685.6 L1140.5,689.5 L1142.0,693.5 L1143.5,697.4 L1145.0,701.4 L1146.5,705.3 L1148.0,709.1 L1149.5,713.0 L1151.0,716.9 L1152.5,720.7 L1154.0,724.5 L1155.5,728.3 L1157.0,732.0 L1158.5,735.8 L1160.0,739.5 L1161.5,743.2 L1163.0,746.9 L1164.5,750.5 L1166.0,754.2 L1167.5,757.8 L1169.0,761.4 L1170.5,764.9 L1172.0,768.5 L1173.5,772.0 L1175.0,775.5 L1176.5,778.9 L1178.0,782.4 L1179.5,785.8 L1181.0,789.2 L1182.5,792.5 L1184.0,795.9 L1185.5,799.2 L1187.0,802.5 L1188.5,805.7 L1190.0,809.0 L1191.5,812.2 L1193.0,815.4 L1194.5,818.5 L1196.0,821.7 L1197.5,824.8 L1199.0,827.8 L1200.5,830.9 L1202.0,833.9 L1203.5,836.9 L1205.0,839.9 L1206.5,842.8 L1208.0,845.7 L1209.5,848.6 L1211.0,851.5 L1212.5,854.3 L1214.0,857.1 L1215.5,859.9 L1217.0,862.6 L1218.5,865.4 L1220.0,868.0 L1221.5,870.7 L1223.0,873.4 L1224.5,876.0 L1226.0,878.5 L1227.5,881.1 L1229.0,883.6 L1230.5,886.1 L1232.0,888.6 L1233.5,891.1 L1235.0,893.5 L1236.5,895.9 L1238.0,898.2 L1239.5,900.6 L1241.0,902.9 L1242.5,905.2 L1244.0,907.4 L1245.5,909.7 L1247.0,911.9 L1248.5,914.1 L1250.0,916.2 L1251.5,918.3 L1253.0,920.4 L1254.5,922.5 L1256.0,924.6 L1257.5,926.6 L1259.0,928.6 L1260.5,930.6 L1262.0,932.5 L1263.5,934.4 L1265.0,936.3 L1266.5,938.2 L1268.0,940.1 L1269.5,941.9 L1271.0,943.7 L1272.5,945.4 L1274.0,947.2 L1275.5,948.9 L1277.0,950.6 L1278.5,952.3 L1280.0,954.0 L1281.5,955.6 L1283.0,957.2 L1284.5,958.8 L1286.0,960.4 L1287.5,961.9 L1289.0,963.4 L1290.5,964.9 L1292.0,966.4 L1293.5,967.8 L1295.0,969.3 L1296.5,970.7 L1298.0,972.1 L1299.5,973.4 L1301.0,974.8 L1302.5,976.1 L1304.0,977.4 L1305.5,978.7 L1307.0,980.0 L1308.5,981.2 L1310.0,982.5 L1311.5,983.7 L1313.0,984.8 L1314.5,986.0 L1316.0,987.2 L1317.5,988.3 L1319.0,989.4 L1320.5,990.5 L1322.0,991.6 L1323.5,992.6 L1325.0,993.7 L1326.5,994.7 L1328.0,995.7 L1329.5,996.7 L1331.0,997.7 L1332.5,998.6 L1334.0,999.6 L1335.5,1000.5 L1337.0,1001.4 L1338.5,1002.3 L1340.0,1003.2 L1341.5,1004.0 L1343.0,1004.9 L1344.5,1005.7 L1346.0,1006.5 L1347.5,1007.3 L1349.0,1008.1 L1350.5,1008.9 L1352.0,1009.6 L1353.5,1010.4 L1355.0,1011.1 L1356.5,1011.8 L1358.0,1012.5 L1359.5,1013.2 L1361.0,1013.9 L1362.5,1014.6 L1364.0,1015.2 L1365.5,1015.8 L1367.0,1016.5 L1368.5,1017.1 L1370.0,1017.7 L1371.5,1018.3 L1373.0,1018.9 L1374.5,1019.4 L1376.0,1020.0 L1377.5,1020.5 L1379.0,1021.1 L1380.5,1021.6 L1382.0,1022.1 L1383.5,1022.6 L1385.0,1023.1 L1386.5,1023.6 L1388.0,1024.1 L1389.5,1024.5 L1391.0,1025.0 L1392.5,1025.4 L1394.0,1025.9 L1395.5,1026.3 L1397.0,1026.7 L1398.5,1027.1 L1400.0,1027.5 L1401.5,1027.9 L1403.0,1028.3 L1404.5,1028.7 L1406.0,1029.1 L1407.5,1029.4 L1409.0,1029.8 L1410.5,1030.1 L1412.0,1030.5 L1413.5,1030.8 L1415.0,1031.1 L1416.5,1031.4 L1418.0,1031.7 L1419.5,1032.0 L1421.0,1032.3 L1422.5,1032.6 L1424.0,1032.9 L1425.5,1033.2 L1427.0,1033.4 L1428.5,1033.7 L1430.0,1034.0 L1431.5,1034.2 L1433.0,1034.5 L1434.5,1034.7 L1436.0,1034.9 L1437.5,1035.2 L1439.0,1035.4 L1440.5,1035.6 L1442.0,1035.8 L1443.5,1036.0 L1445.0,1036.2 L1446.5,1036.4 L1448.0,1036.6 L1449.5,1036.8 L1451.0,1037.0 L1452.5,1037.2" stroke="#1E6EDC" stroke-width="5.8" stroke-dasharray="5 9.86" stroke-dashoffset="4.86"/>
<path d="M207.5,1041.2 L209.0,1041.2 L210.5,1041.2 L212.0,1041.2 L213.5,1041.1 L215.0,1041.1 L216.5,1041.1 L218.0,1041.0 L219.5,1041.0 L221.0,1041.0 L222.5,1040.9 L224.0,1040.9 L225.5,1040.9 L227.0,1040.8 L228.5,1040.8 L230.0,1040.8 L231.5,1040.7 L233.0,1040.7 L234.5,1040.6 L236.0,1040.6 L237.5,1040.6 L239.0,1040.5 L240.5,1040.5 L242.0,1040.4 L243.5,1040.4 L245.0,1040.4 L246.5,1040.3 L248.0,1040.3 L249.5,1040.2 L251.0,1040.2 L252.5,1040.1 L254.0,1040.1 L255.5,1040.0 L257.0,1040.0 L258.5,1039.9 L260.0,1039.9 L261.5,1039.8 L263.0,1039.8 L264.5,1039.7 L266.0,1039.7 L267.5,1039.6 L269.0,1039.5 L270.5,1039.5 L272.0,1039.4 L273.5,1039.4 L275.0,1039.3 L276.5,1039.2 L278.0,1039.2 L279.5,1039.1 L281.0,1039.0 L282.5,1039.0 L284.0,1038.9 L285.5,1038.8 L287.0,1038.7 L288.5,1038.7 L290.0,1038.6 L291.5,1038.5 L293.0,1038.4 L294.5,1038.3 L296.0,1038.2 L297.5,1038.2 L299.0,1038.1 L300.5,1038.0 L302.0,1037.9 L303.5,1037.8 L305.0,1037.7 L306.5,1037.6 L308.0,1037.5 L309.5,1037.4 L311.0,1037.3 L312.5,1037.2 L314.0,1037.1 L315.5,1037.0 L317.0,1036.9 L318.5,1036.7 L320.0,1036.6 L321.5,1036.5 L323.0,1036.4 L324.5,1036.3 L326.0,1036.1 L327.5,1036.0 L329.0,1035.9 L330.5,1035.7 L332.0,1035.6 L333.5,1035.4 L335.0,1035.3 L336.5,1035.2 L338.0,1035.0 L339.5,1034.9 L341.0,1034.7 L342.5,1034.5 L344.0,1034.4 L345.5,1034.2 L347.0,1034.0 L348.5,1033.9 L350.0,1033.7 L351.5,1033.5 L353.0,1033.3 L354.5,1033.1 L356.0,1032.9 L357.5,1032.7 L359.0,1032.5 L360.5,1032.3 L362.0,1032.1 L363.5,1031.9 L365.0,1031.7 L366.5,1031.5 L368.0,1031.3 L369.5,1031.0 L371.0,1030.8 L372.5,1030.6 L374.0,1030.3 L375.5,1030.1 L377.0,1029.8 L378.5,1029.5 L380.0,1029.3 L381.5,1029.0 L383.0,1028.7 L384.5,1028.5 L386.0,1028.2 L387.5,1027.9 L389.0,1027.6 L390.5,1027.3 L392.0,1027.0 L393.5,1026.7 L395.0,1026.4 L396.5,1026.0 L398.0,1025.7 L399.5,1025.4 L401.0,1025.0 L402.5,1024.7 L404.0,1024.3 L405.5,1024.0 L407.0,1023.6 L408.5,1023.2 L410.0,1022.8 L411.5,1022.5 L413.0,1022.1 L414.5,1021.7 L416.0,1021.2 L417.5,1020.8 L419.0,1020.4 L420.5,1020.0 L422.0,1019.5 L423.5,1019.1 L425.0,1018.6 L426.5,1018.2 L428.0,1017.7 L429.5,1017.2 L431.0,1016.7 L432.5,1016.2 L434.0,1015.7 L435.5,1015.2 L437.0,1014.7 L438.5,1014.1 L440.0,1013.6 L441.5,1013.1 L443.0,1012.5 L444.5,1011.9 L446.0,1011.4 L447.5,1010.8 L449.0,1010.2 L450.5,1009.6 L452.0,1008.9 L453.5,1008.3 L455.0,1007.7 L456.5,1007.0 L458.0,1006.4 L459.5,1005.7 L461.0,1005.0 L462.5,1004.3 L464.0,1003.6 L465.5,1002.9 L467.0,1002.2 L468.5,1001.5 L470.0,1000.7 L471.5,1000.0 L473.0,999.2 L474.5,998.4 L476.0,997.6 L477.5,996.8 L479.0,996.0 L480.5,995.2 L482.0,994.3 L483.5,993.5 L485.0,992.6 L486.5,991.7 L488.0,990.8 L489.5,989.9 L491.0,989.0 L492.5,988.0 L494.0,987.1 L495.5,986.1 L497.0,985.2 L498.5,984.2 L500.0,983.2 L501.5,982.2 L503.0,981.1 L504.5,980.1 L506.0,979.0 L507.5,977.9 L509.0,976.9 L510.5,975.8 L512.0,974.6 L513.5,973.5 L515.0,972.4 L516.5,971.2 L518.0,970.0 L519.5,968.8 L521.0,967.6 L522.5,966.4 L524.0,965.1 L525.5,963.9 L527.0,962.6 L528.5,961.3 L530.0,960.0 L531.5,958.7 L533.0,957.3 L534.5,956.0 L536.0,954.6 L537.5,953.2 L539.0,951.8 L540.5,950.4 L542.0,948.9 L543.5,947.5 L545.0,946.0 L546.5,944.5 L548.0,943.0 L549.5,941.4 L551.0,939.9 L552.5,938.3 L554.0,936.7 L555.5,935.1 L557.0,933.5 L558.5,931.9 L560.0,930.2 L561.5,928.5 L563.0,926.9 L564.5,925.1 L566.0,923.4 L567.5,921.7 L569.0,919.9 L570.5,918.1 L572.0,916.3 L573.5,914.5 L575.0,912.6 L576.5,910.7 L578.0,908.9 L579.5,907.0 L581.0,905.0 L582.5,903.1 L584.0,901.1 L585.5,899.2 L587.0,897.2 L588.5,895.1 L590.0,893.1 L591.5,891.0 L593.0,889.0 L594.5,886.9 L596.0,884.7 L597.5,882.6 L599.0,880.4 L600.5,878.3 L602.0,876.1 L603.5,873.9 L605.0,871.6 L606.5,869.4 L608.0,867.1 L609.5,864.8 L611.0,862.5 L612.5,860.1 L614.0,857.8 L615.5,855.4 L617.0,853.0 L618.5,850.6 L620.0,848.2 L621.5,845.7 L623.0,843.3 L624.5,840.8 L626.0,838.3 L627.5,835.7 L629.0,833.2 L630.5,830.6 L632.0,828.0 L633.5,825.4 L635.0,822.8 L636.5,820.1 L638.0,817.5 L639.5,814.8 L641.0,812.1 L642.5,809.4 L644.0,806.6 L645.5,803.9 L647.0,801.1 L648.5,798.3 L650.0,795.5 L651.5,792.7 L653.0,789.8 L654.5,787.0 L656.0,784.1 L657.5,781.2 L659.0,778.3 L660.5,775.4 L662.0,772.4 L663.5,769.4 L665.0,766.5 L666.5,763.5 L668.0,760.5 L669.5,757.4 L671.0,754.4 L672.5,751.3 L674.0,748.2 L675.5,745.2 L677.0,742.0 L678.5,738.9 L680.0,735.8 L681.5,732.6 L683.0,729.5 L684.5,726.3 L686.0,723.1 L687.5,719.9 L689.0,716.7 L690.5,713.5 L692.0,710.2 L693.5,706.9 L695.0,703.7 L696.5,700.4 L698.0,697.1 L699.5,693.8 L701.0,690.5 L702.5,687.2 L704.0,683.8 L705.5,680.5 L707.0,677.1 L708.5,673.8 L710.0,670.4 L711.5,667.0 L713.0,663.6 L714.5,660.2 L716.0,656.8 L717.5,653.4 L719.0,650.0 L720.5,646.5 L722.0,643.1 L723.5,639.6 L725.0,636.2 L726.5,632.7 L728.0,629.3 L729.5,625.8 L731.0,622.3 L732.5,618.9 L734.0,615.4 L735.5,611.9 L737.0,608.4 L738.5,604.9 L740.0,601.4 L741.5,597.9 L743.0,594.4 L744.5,590.9 L746.0,587.5 L747.5,584.0 L749.0,580.5 L750.5,577.0 L752.0,573.5 L753.5,570.0 L755.0,566.5 L756.5,563.0 L758.0,559.5 L759.5,556.0 L761.0,552.5 L762.5,549.1 L764.0,545.6 L765.5,542.1 L767.0,538.7 L768.5,535.2 L770.0,531.8 L771.5,528.3 L773.0,524.9 L774.5,521.4 L776.0,518.0 L777.5,514.6 L779.0,511.2 L780.5,507.8 L782.0,504.4 L783.5,501.0 L785.0,497.7 L786.5,494.3 L788.0,491.0 L789.5,487.6 L791.0,484.3 L792.5,481.0 L794.0,477.7 L795.5,474.5 L797.0,471.2 L798.5,467.9 L800.0,464.7 L801.5,461.5 L803.0,458.3 L804.5,455.1 L806.0,451.9 L807.5,448.8 L809.0,445.6 L810.5,442.5 L812.0,439.4 L813.5,436.4 L815.0,433.3 L816.5,430.3 L818.0,427.2 L819.5,424.3 L821.0,421.3 L822.5,418.3 L824.0,415.4 L825.5,412.5 L827.0,409.6 L828.5,406.8 L830.0,403.9 L831.5,401.1 L833.0,398.3 L834.5,395.6 L836.0,392.8 L837.5,390.1 L839.0,387.5 L840.5,384.8 L842.0,382.2 L843.5,379.6 L845.0,377.0 L846.5,374.5 L848.0,372.0 L849.5,369.5 L851.0,367.1 L852.5,364.6 L854.0,362.3 L855.5,359.9 L857.0,357.6 L858.5,355.3 L860.0,353.0 L861.5,350.8 L863.0,348.6 L864.5,346.4 L866.0,344.3 L867.5,342.2 L869.0,340.2 L870.5,338.2 L872.0,336.2 L873.5,334.2 L875.0,332.3 L876.5,330.4 L878.0,328.6 L879.5,326.8 L881.0,325.0 L882.5,323.3 L884.0,321.6 L885.5,319.9 L887.0,318.3 L888.5,316.8 L890.0,315.2 L891.5,313.7 L893.0,312.3 L894.5,310.8 L896.0,309.5 L897.5,308.1 L899.0,306.8 L900.5,305.6 L902.0,304.4 L903.5,303.2 L905.0,302.1 L906.5,301.0 L908.0,299.9 L909.5,298.9 L911.0,297.9 L912.5,297.0 L914.0,296.1 L915.5,295.3 L917.0,294.5 L918.5,293.7 L920.0,293.0 L921.5,292.4 L923.0,291.7 L924.5,291.2 L926.0,290.6 L927.5,290.1 L929.0,289.7 L930.5,289.3 L932.0,288.9 L933.5,288.6 L935.0,288.3 L936.5,288.1 L938.0,287.9 L939.5,287.7 L941.0,287.6 L942.5,287.6 L944.0,287.6 L945.5,287.6 L947.0,287.7 L948.5,287.8 L950.0,288.0 L951.5,288.2 L953.0,288.4 L954.5,288.7 L956.0,289.1 L957.5,289.4 L959.0,289.9 L960.5,290.3 L962.0,290.8 L963.5,291.4 L965.0,292.0 L966.5,292.6 L968.0,293.3 L969.5,294.1 L971.0,294.8 L972.5,295.7 L974.0,296.5 L975.5,297.4 L977.0,298.4 L978.5,299.3 L980.0,300.4 L981.5,301.4 L983.0,302.5 L984.5,303.7 L986.0,304.9 L987.5,306.1 L989.0,307.4 L990.5,308.7 L992.0,310.1 L993.5,311.5 L995.0,312.9 L996.5,314.4 L998.0,315.9 L999.5,317.4 L1001.0,319.0 L1002.5,320.7 L1004.0,322.3 L1005.5,324.0 L1007.0,325.8 L1008.5,327.6 L1010.0,329.4 L1011.5,331.2 L1013.0,333.1 L1014.5,335.1 L1016.0,337.0 L1017.5,339.0 L1019.0,341.1 L1020.5,343.1 L1022.0,345.2 L1023.5,347.4 L1025.0,349.6 L1026.5,351.8 L1028.0,354.0 L1029.5,356.3 L1031.0,358.6 L1032.5,360.9 L1034.0,363.3 L1035.5,365.7 L1037.0,368.1 L1038.5,370.6 L1040.0,373.1 L1041.5,375.6 L1043.0,378.2 L1044.5,380.7 L1046.0,383.3 L1047.5,386.0 L1049.0,388.6 L1050.5,391.3 L1052.0,394.0 L1053.5,396.8 L1055.0,399.6 L1056.5,402.4 L1058.0,405.2 L1059.5,408.0 L1061.0,410.9 L1062.5,413.8 L1064.0,416.7 L1065.5,419.6 L1067.0,422.6 L1068.5,425.6 L1070.0,428.6 L1071.5,431.6 L1073.0,434.7 L1074.5,437.7 L1076.0,440.8 L1077.5,443.9 L1079.0,447.0 L1080.5,450.2 L1082.0,453.3 L1083.5,456.5 L1085.0,459.7 L1086.5,462.9 L1088.0,466.1 L1089.5,469.4 L1091.0,472.6 L1092.5,475.9 L1094.0,479.2 L1095.5,482.5 L1097.0,485.8 L1098.5,489.1 L1100.0,492.5 L1101.5,495.8 L1103.0,499.2 L1104.5,502.6 L1106.0,505.9 L1107.5,509.3 L1109.0,512.7 L1110.5,516.2 L1112.0,519.6 L1113.5,523.0 L1115.0,526.4 L1116.5,529.9 L1118.0,533.3 L1119.5,536.8 L1121.0,540.2 L1122.5,543.7 L1124.0,547.2 L1125.5,550.7 L1127.0,554.1 L1128.5,557.6 L1130.0,561.1 L1131.5,564.6 L1133.0,568.1 L1134.5,571.6 L1136.0,575.1 L1137.5,578.6 L1139.0,582.1 L1140.5,585.6 L1142.0,589.1 L1143.5,592.6 L1145.0,596.1 L1146.5,599.6 L1148.0,603.1 L1149.5,606.6 L1151.0,610.1 L1152.5,613.5 L1154.0,617.0 L1155.5,620.5 L1157.0,624.0 L1158.5,627.5 L1160.0,630.9 L1161.5,634.4 L1163.0,637.8 L1164.5,641.3 L1166.0,644.7 L1167.5,648.2 L1169.0,651.6 L1170.5,655.0 L1172.0,658.5 L1173.5,661.9 L1175.0,665.3 L1176.5,668.7 L1178.0,672.0 L1179.5,675.4 L1181.0,678.8 L1182.5,682.1 L1184.0,685.5 L1185.5,688.8 L1187.0,692.1 L1188.5,695.5 L1190.0,698.8 L1191.5,702.1 L1193.0,705.3 L1194.5,708.6 L1196.0,711.9 L1197.5,715.1 L1199.0,718.3 L1200.5,721.5 L1202.0,724.8 L1203.5,727.9 L1205.0,731.1 L1206.5,734.3 L1208.0,737.4 L1209.5,740.6 L1211.0,743.7 L1212.5,746.8 L1214.0,749.9 L1215.5,753.0 L1217.0,756.0 L1218.5,759.1 L1220.0,762.1 L1221.5,765.1 L1223.0,768.1 L1224.5,771.1 L1226.0,774.0 L1227.5,777.0 L1229.0,779.9 L1230.5,782.8 L1232.0,785.7 L1233.5,788.6 L1235.0,791.5 L1236.5,794.3 L1238.0,797.1 L1239.5,799.9 L1241.0,802.7 L1242.5,805.5 L1244.0,808.3 L1245.5,811.0 L1247.0,813.7 L1248.5,816.4 L1250.0,819.1 L1251.5,821.7 L1253.0,824.4 L1254.5,827.0 L1256.0,829.6 L1257.5,832.2 L1259.0,834.8 L1260.5,837.3 L1262.0,839.8 L1263.5,842.4 L1265.0,844.8 L1266.5,847.3 L1268.0,849.8 L1269.5,852.2 L1271.0,854.6 L1272.5,857.0 L1274.0,859.4 L1275.5,861.7 L1277.0,864.1 L1278.5,866.4 L1280.0,868.7 L1281.5,871.0 L1283.0,873.2 L1284.5,875.4 L1286.0,877.7 L1287.5,879.9 L1289.0,882.0 L1290.5,884.2 L1292.0,886.3 L1293.5,888.4 L1295.0,890.5 L1296.5,892.6 L1298.0,894.7 L1299.5,896.7 L1301.0,898.7 L1302.5,900.7 L1304.0,902.7 L1305.5,904.7 L1307.0,906.6 L1308.5,908.6 L1310.0,910.5 L1311.5,912.3 L1313.0,914.2 L1314.5,916.1 L1316.0,917.9 L1317.5,919.7 L1319.0,921.5 L1320.5,923.3 L1322.0,925.0 L1323.5,926.8 L1325.0,928.5 L1326.5,930.2 L1328.0,931.8 L1329.5,933.5 L1331.0,935.1 L1332.5,936.8 L1334.0,938.4 L1335.5,940.0 L1337.0,941.5 L1338.5,943.1 L1340.0,944.6 L1341.5,946.1 L1343.0,947.6 L1344.5,949.1 L1346.0,950.6 L1347.5,952.0 L1349.0,953.5 L1350.5,954.9 L1352.0,956.3 L1353.5,957.6 L1355.0,959.0 L1356.5,960.3 L1358.0,961.7 L1359.5,963.0 L1361.0,964.3 L1362.5,965.6 L1364.0,966.8 L1365.5,968.1 L1367.0,969.3 L1368.5,970.5 L1370.0,971.7 L1371.5,972.9 L1373.0,974.1 L1374.5,975.2 L1376.0,976.4 L1377.5,977.5 L1379.0,978.6 L1380.5,979.7 L1382.0,980.8 L1383.5,981.8 L1385.0,982.9 L1386.5,983.9 L1388.0,984.9 L1389.5,985.9 L1391.0,986.9 L1392.5,987.9 L1394.0,988.9 L1395.5,989.8 L1397.0,990.8 L1398.5,991.7 L1400.0,992.6 L1401.5,993.5 L1403.0,994.4 L1404.5,995.3 L1406.0,996.1 L1407.5,997.0 L1409.0,997.8 L1410.5,998.6 L1412.0,999.5 L1413.5,1000.3 L1415.0,1001.0 L1416.5,1001.8 L1418.0,1002.6 L1419.5,1003.3 L1421.0,1004.1 L1422.5,1004.8 L1424.0,1005.5 L1425.5,1006.2 L1427.0,1006.9 L1428.5,1007.6 L1430.0,1008.3 L1431.5,1009.0 L1433.0,1009.6 L1434.5,1010.3 L1436.0,1010.9 L1437.5,1011.5 L1439.0,1012.1 L1440.5,1012.7 L1442.0,1013.3 L1443.5,1013.9 L1445.0,1014.5 L1446.5,1015.1 L1448.0,1015.6 L1449.5,1016.2 L1451.0,1016.7 L1452.5,1017.2" stroke="#37AA69" stroke-width="5.8" stroke-dasharray="32.5 20.8 9 21.6 9 20.8" stroke-dashoffset="4.1"/>
</g>
<path d="M207.4,1063.5 V40.3 H1453 V1062.5" stroke="#000" stroke-width="3.2"/>
<line x1="186.5" y1="40.3" x2="207" y2="40.3" stroke="#000" stroke-width="3"/>
<line x1="186.5" y1="290.8" x2="207" y2="290.8" stroke="#000" stroke-width="3"/>
<line x1="186.5" y1="541.8" x2="207" y2="541.8" stroke="#000" stroke-width="3"/>
<line x1="186.5" y1="792.8" x2="207" y2="792.8" stroke="#000" stroke-width="3"/>
<line x1="197" y1="918.3" x2="207" y2="918.3" stroke="#000" stroke-width="3"/>
<line x1="197" y1="667.3" x2="207" y2="667.3" stroke="#000" stroke-width="3"/>
<line x1="197" y1="416.3" x2="207" y2="416.3" stroke="#000" stroke-width="3"/>
<line x1="197" y1="165.3" x2="207" y2="165.3" stroke="#000" stroke-width="3"/>
<line x1="332.5" y1="1046" x2="332.5" y2="1053.5" stroke="#000" stroke-width="2.8"/>
<line x1="405.6" y1="1046" x2="405.6" y2="1053.5" stroke="#000" stroke-width="2.8"/>
<line x1="457.5" y1="1046" x2="457.5" y2="1053.5" stroke="#000" stroke-width="2.8"/>
<line x1="497.7" y1="1046" x2="497.7" y2="1053.5" stroke="#000" stroke-width="2.8"/>
<line x1="530.6" y1="1046" x2="530.6" y2="1053.5" stroke="#000" stroke-width="2.8"/>
<line x1="558.4" y1="1046" x2="558.4" y2="1053.5" stroke="#000" stroke-width="2.8"/>
<line x1="582.4" y1="1046" x2="582.4" y2="1053.5" stroke="#000" stroke-width="2.8"/>
<line x1="603.7" y1="1046" x2="603.7" y2="1053.5" stroke="#000" stroke-width="2.8"/>
<line x1="622.7" y1="1045" x2="622.7" y2="1063.3" stroke="#000" stroke-width="3"/>
<line x1="747.6" y1="1046" x2="747.6" y2="1053.5" stroke="#000" stroke-width="2.8"/>
<line x1="820.8" y1="1046" x2="820.8" y2="1053.5" stroke="#000" stroke-width="2.8"/>
<line x1="872.6" y1="1046" x2="872.6" y2="1053.5" stroke="#000" stroke-width="2.8"/>
<line x1="912.9" y1="1046" x2="912.9" y2="1053.5" stroke="#000" stroke-width="2.8"/>
<line x1="945.7" y1="1046" x2="945.7" y2="1053.5" stroke="#000" stroke-width="2.8"/>
<line x1="973.5" y1="1046" x2="973.5" y2="1053.5" stroke="#000" stroke-width="2.8"/>
<line x1="997.6" y1="1046" x2="997.6" y2="1053.5" stroke="#000" stroke-width="2.8"/>
<line x1="1018.8" y1="1046" x2="1018.8" y2="1053.5" stroke="#000" stroke-width="2.8"/>
<line x1="1037.8" y1="1045" x2="1037.8" y2="1063.3" stroke="#000" stroke-width="3"/>
<line x1="1162.8" y1="1046" x2="1162.8" y2="1053.5" stroke="#000" stroke-width="2.8"/>
<line x1="1235.9" y1="1046" x2="1235.9" y2="1053.5" stroke="#000" stroke-width="2.8"/>
<line x1="1287.8" y1="1046" x2="1287.8" y2="1053.5" stroke="#000" stroke-width="2.8"/>
<line x1="1328.0" y1="1046" x2="1328.0" y2="1053.5" stroke="#000" stroke-width="2.8"/>
<line x1="1360.9" y1="1046" x2="1360.9" y2="1053.5" stroke="#000" stroke-width="2.8"/>
<line x1="1388.7" y1="1046" x2="1388.7" y2="1053.5" stroke="#000" stroke-width="2.8"/>
<line x1="1412.8" y1="1046" x2="1412.8" y2="1053.5" stroke="#000" stroke-width="2.8"/>
<line x1="1434.0" y1="1046" x2="1434.0" y2="1053.5" stroke="#000" stroke-width="2.8"/>
</g>
<g fill="none" stroke-linecap="butt">
<line x1="265.6" y1="130" x2="440" y2="130" stroke="#505050" stroke-width="6"/>
<line x1="265.6" y1="222.3" x2="441.3" y2="222.3" stroke="#EF3E3E" stroke-width="6" stroke-dasharray="38.5 35.5"/>
<line x1="266" y1="314.6" x2="442" y2="314.6" stroke="#1E6EDC" stroke-width="6" stroke-dasharray="5.8 8.9"/>
<line x1="266" y1="406.8" x2="441.3" y2="406.8" stroke="#37AA69" stroke-width="6" stroke-dasharray="34 20 11 19 11.5 19.5"/>
</g>
<g style="font-family:'Liberation Serif','Times New Roman',serif" fill="#000">
<text transform="translate(138.30,63.80) scale(0.8221,1)" font-size="81">8</text>
<text transform="translate(135.32,313.80) scale(0.9530,1)" font-size="81">6</text>
<text transform="translate(133.63,564.00) scale(0.9664,1)" font-size="81">4</text>
<text transform="translate(134.22,816.50) scale(1.0370,1)" font-size="81">2</text>
<text transform="translate(135.36,1065.20) scale(0.9673,1)" font-size="81">0</text>
<text transform="translate(140.80,1136.00) scale(0.8905,1)" font-size="81">0.01</text>
<text transform="translate(574.62,1136.00) scale(0.8837,1)" font-size="81">0.1</text>
<text transform="translate(1019.79,1136.00) scale(0.8055,1)" font-size="81">1</text>
<text transform="translate(1416.48,1136.00) scale(0.9199,1)" font-size="81">10</text>
<text transform="translate(638.72,1253.80) scale(0.9639,1)" font-size="79">Radius (μm)</text>
<text transform="translate(74.0,508.5) rotate(-90) scale(0.962,1)" text-anchor="middle" font-size="79">Number concentration</text>
<text transform="translate(454.50,157.31) scale(0.8517,0.8959)" font-size="79" style="font-family:'Noto Serif CJK SC','Liberation Serif',serif">γ</text>
<text transform="translate(504.19,148.25) scale(1.1161,0.7405)" font-size="79" style="white-space:pre">=</text>
<text transform="translate(568.3,155) scale(0.966,1)" font-size="79">0% (Ture value)</text>
<text transform="translate(454.50,250.41) scale(0.8517,0.8959)" font-size="79" style="font-family:'Noto Serif CJK SC','Liberation Serif',serif">γ</text>
<text transform="translate(504.19,241.35) scale(1.1161,0.7405)" font-size="79" style="white-space:pre">=</text>
<text transform="translate(568.3,248.1) scale(0.966,1)" font-size="79">3%</text>
<text transform="translate(454.50,343.31) scale(0.8517,0.8959)" font-size="79" style="font-family:'Noto Serif CJK SC','Liberation Serif',serif">γ</text>
<text transform="translate(504.19,334.25) scale(1.1161,0.7405)" font-size="79" style="white-space:pre">=</text>
<text transform="translate(568.3,341) scale(0.966,1)" font-size="79">5%</text>
<text transform="translate(454.50,434.91) scale(0.8517,0.8959)" font-size="79" style="font-family:'Noto Serif CJK SC','Liberation Serif',serif">γ</text>
<text transform="translate(504.19,425.85) scale(1.1161,0.7405)" font-size="79" style="white-space:pre">=</text>
<text transform="translate(568.3,432.6) scale(0.966,1)" font-size="79">10%</text>
</g>
</svg>
</body></html>
